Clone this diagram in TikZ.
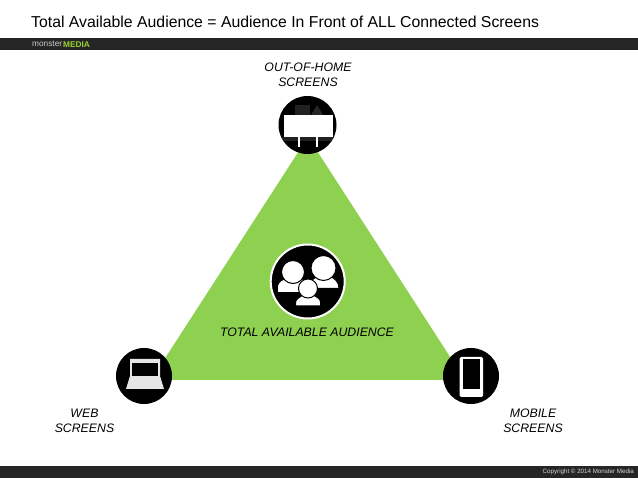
\documentclass[tikz,border=0pt]{standalone}
\usepackage{fontspec}
\setmainfont{Liberation Sans}
\definecolor{barc}{HTML}{262626}
\definecolor{greenc}{HTML}{8ED04F}
\definecolor{logog}{HTML}{9BD32E}
\tikzset{
  lab/.style={font=\fontsize{12.3}{15.2}\selectfont\itshape, align=center, text=black, inner sep=0pt},
  disc/.style={circle, fill=black, inner sep=0pt, minimum size=#1},
  wh/.style={fill=white, draw=none},
  cut/.style={fill=white, draw=black, line width=1pt},
  bar/.style={fill=barc, draw=none}
}
\begin{document}
\begin{tikzpicture}[x=1pt,y=-1pt]
\useasboundingbox (0,0) rectangle (638,478);
\fill[white] (0,0) rectangle (638,478);
% bars
\fill[bar] (0,38) rectangle (638,50);
\fill[bar] (0,466) rectangle (638,478);
\node[anchor=west, inner sep=0pt, font=\fontsize{15.8}{19}\selectfont] (title) at (31,22) {Total Available Audience = Audience In Front of ALL Connected Screens};
\node[anchor=west, inner sep=0pt, font=\fontsize{8.3}{10}\selectfont, text=white!80!black] (logoa) at (32,44) {monster};
\node[anchor=west, inner sep=0pt, font=\fontsize{8.3}{10}\selectfont\bfseries, text=logog] (logob) at (63,44.3) {MEDIA};
\node[anchor=east, inner sep=0pt, font=\fontsize{6.2}{8}\selectfont, text=white!85!black] (copy) at (634,472) {Copyright © 2014 Monster Media};
% triangle
\fill[greenc] (308,137) -- (465,380) -- (151,380) -- cycle;
% top: out-of-home
\node[disc=58pt] (top) at (307.5,125) {};
\begin{scope}
\clip (top.center) circle (29pt);
\fill[black!87] (295,105) rectangle (310,115);
\fill[black!85] (311,115) -- (317,105) -- (323,115) -- cycle;
\fill[black!87] (275,137) rectangle (340,141);
\end{scope}
\fill[wh] (284,115) rectangle (333,137);
\fill[wh] (298,137) rectangle (300,147);
\fill[wh] (316,137) rectangle (318,147);
% centre: audience
\node[disc=74pt, draw=white, line width=2pt] (mid) at (307.7,281.5) {};
\fill[wh] (278,292) -- (278,286) .. controls (279,282) and (283,280) .. (288,278) -- (298,278) .. controls (304,280) and (310,284) .. (310,292) -- cycle;
\draw[cut] (306,288.5) .. controls (308,282) and (313,279) .. (318,276) -- (329,276) .. controls (335,278) and (339,282) .. (339,288.5) -- cycle;
\draw[cut] (323.5,268) circle (12.5pt);
\draw[cut] (293,272) circle (11.5pt);
\draw[cut] (295.5,306) -- (295.5,302) .. controls (296,299) and (300,297) .. (303,295) -- (313,295) .. controls (317,297) and (320.5,299) .. (320.5,302) -- (320.5,306) -- cycle;
\draw[cut] (308,288.5) circle (9.5pt);
\node[lab] (total) at (307,332.5) {TOTAL AVAILABLE AUDIENCE};
% left: laptop
\node[disc=56pt] (left) at (144,376) {};
\fill[white!90!black] (130,359) -- (160,359) -- (160,376) -- (164,389) -- (126,389) -- (130,376) -- cycle;
\fill[black] (132,363) rectangle (158,376);
% right: phone
\node[disc=56pt] (right) at (471,376) {};
\fill[wh, rounded corners=1.5pt] (459.5,357) rectangle (483,397);
\fill[black] (462.5,359.5) rectangle (480,389);
% labels
\node[lab] (ooh) at (308,75) {OUT-OF-HOME\\SCREENS};
\node[lab] (web) at (84.5,421) {WEB\\SCREENS};
\node[lab] (mob) at (533,421) {MOBILE\\SCREENS};
\end{tikzpicture}
\end{document}
